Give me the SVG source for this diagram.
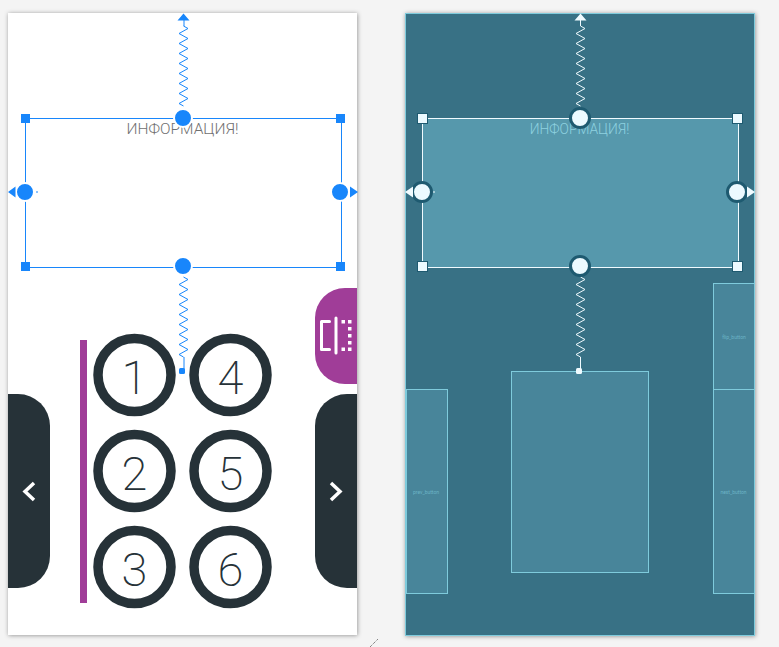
<svg xmlns="http://www.w3.org/2000/svg" xmlns:xlink="http://www.w3.org/1999/xlink" width="779" height="647" viewBox="0 0 779 647">
<style>
text{font-family:Roboto,"Noto Sans",sans-serif}
.spring{fill:none;stroke-width:1}
.blue{stroke:#1886fb}
.white{stroke:#f0fbff}
.num{font-size:47px;font-weight:200;fill:#263238;text-anchor:middle}
.ring{fill:#fff;stroke:#263238;stroke-width:9.500}
.hb{fill:#1886fb}
.hw{fill:#ecfaff;stroke:#1e5a70;stroke-width:1}
.cb{fill:#1886fb;stroke:#fff;stroke-width:2}
.cw{fill:#ecfaff;stroke:#1e5a70;stroke-width:3}
.box{fill:#48859a;stroke:#7fcbdc;stroke-width:1}
.small{font-size:5px;fill:#6cb4c6;text-anchor:middle}
.dark{fill:#263238}
</style>
<defs>
<path id="zig" d="M0 0l4.500 2.500l-9 5l9 5l-9 5l9 5l-9 5l9 5l-9 5l9 5l-9 5l9 5l-9 5l9 5l-9 5l9 5l-9 5l4.500 2.500"/>
<filter id="sh" x="-5%" y="-5%" width="110%" height="110%"><feDropShadow dx="0.500" dy="0.500" stdDeviation="2" flood-color="#000" flood-opacity=".4"/></filter>
</defs>
<rect id="background" width="779" height="647" fill="#f4f4f4"/>
<rect id="light-panel" x="8" y="13" width="349" height="622" fill="#fff" filter="url(#sh)"/>
<rect id="dark-panel" x="405.500" y="13.500" width="349" height="622" fill="#397185" stroke="#7fcbdc" filter="url(#sh)"/>

<g id="prev-button"><path class="dark" d="M8 394H18A32 32 0 0 1 50 426V556A32 32 0 0 1 18 588H8Z"/><path d="M34 483L25 491.500L34 500" fill="none" stroke="#fff" stroke-width="3.500"/></g>
<g id="next-button"><path class="dark" d="M357 394H347A32 32 0 0 0 315 426V556A32 32 0 0 0 347 588H357Z"/><path d="M331 483L340 491.500L331 500" fill="none" stroke="#fff" stroke-width="3.500"/></g>
<g id="flip-button"><path d="M357 288H345A30 30 0 0 0 315 318V354A30 30 0 0 0 345 384H357Z" fill="#a03d98"/>
<path d="M329.500 321.500H321.500V349.500H329.500" fill="none" stroke="#fff" stroke-width="3" stroke-linejoin="round" stroke-linecap="round"/><path d="M336 318V353" stroke="#fff" stroke-width="3" stroke-linecap="round"/>
<path d="M341.500 320h3.500v3.500h-3.500zM348 320h3.500v3.500h-3.500zM348 327h3.500v3.500h-3.500zM348 334h3.500v3.500h-3.500zM348 341h3.500v3.500h-3.500zM348 347.500h3.500v3.500h-3.500zM341.500 347.500h3.500v3.500h-3.500z" fill="#fff"/></g>
<rect id="divider" x="80" y="340" width="7" height="263" fill="#a03d98"/>

<g id="num-1"><circle class="ring" cx="134.500" cy="375" r="36.500"/><text class="num" x="134.500" y="393.500">1</text></g>
<g id="num-2"><circle class="ring" cx="134.500" cy="471" r="36.500"/><text class="num" x="134.500" y="489.500">2</text></g>
<g id="num-3"><circle class="ring" cx="134.500" cy="567" r="36.500"/><text class="num" x="134.500" y="585.500">3</text></g>
<g id="num-4"><circle class="ring" cx="230.500" cy="375" r="36.500"/><text class="num" x="230.500" y="393.500">4</text></g>
<g id="num-5"><circle class="ring" cx="230.500" cy="471" r="36.500"/><text class="num" x="230.500" y="489.500">5</text></g>
<g id="num-6"><circle class="ring" cx="230.500" cy="567" r="36.500"/><text class="num" x="230.500" y="585.500">6</text></g>

<g id="info-light"><rect x="25.500" y="118.500" width="316" height="149" fill="none" stroke="#1886fb"/>
<text x="182.500" y="134" font-size="15.500" font-weight="300" fill="#707070" text-anchor="middle">ИНФОРМАЦИЯ!</text></g>

<g id="dark-boxes">
<rect class="box" x="406.500" y="389.500" width="41" height="204"/><text class="small" x="426" y="494">prev_button</text>
<rect class="box" x="511.500" y="371.500" width="137" height="201"/>
<rect class="box" x="713.500" y="283.500" width="41" height="106"/><text class="small" x="734" y="339">flip_button</text>
<rect class="box" x="713.500" y="389.500" width="41" height="204"/><text class="small" x="733.500" y="494">next_button</text>
</g>

<g id="info-dark"><rect x="422.500" y="118.500" width="316" height="149" fill="#5698ac" stroke="#f0fbff"/>
<text x="579.500" y="134" font-size="13.800" font-weight="300" fill="#8ed2e0" text-anchor="middle">ИНФОРМАЦИЯ!</text></g>

<g id="connectors">
<path class="spring blue" d="M184 20V26"/><use xlink:href="#zig" href="#zig" x="183.500" y="26" class="spring blue"/>
<path class="spring blue" d="M184 357V370"/><use xlink:href="#zig" href="#zig" x="183.500" y="277" class="spring blue"/>
<rect class="hb" x="179" y="368" width="6" height="6" rx="1.500"/>
<path class="spring white" d="M580.500 20V26"/><use xlink:href="#zig" href="#zig" x="580.500" y="26" class="spring white"/>
<path class="spring white" d="M580.500 357V370"/><use xlink:href="#zig" href="#zig" x="580.500" y="277" class="spring white"/>
<rect x="576" y="368" width="6" height="6" rx="1.500" fill="#f0fbff"/>
</g>

<g id="light-handles">
<rect class="hb" x="21" y="114" width="9" height="9"/><rect class="hb" x="336" y="114" width="9" height="9"/><rect class="hb" x="21" y="262" width="9" height="9"/><rect class="hb" x="336" y="262" width="9" height="9"/>
<circle class="cb" cx="183" cy="118" r="9"/><circle class="cb" cx="183" cy="266" r="9"/><circle class="cb" cx="25" cy="192" r="9"/><circle class="cb" cx="340" cy="192" r="9"/>
<path class="hb" d="M8 192L15.500 186.500V197.500ZM358 192L350 186.500V197.500ZM177.500 20.500L183.500 13.500L189.500 20.500Z"/><path d="M36 192h2" class="blue"/>
</g>

<g id="dark-handles">
<rect class="hw" x="417.500" y="113.500" width="10" height="10"/><rect class="hw" x="732.500" y="113.500" width="10" height="10"/><rect class="hw" x="417.500" y="261.500" width="10" height="10"/><rect class="hw" x="732.500" y="261.500" width="10" height="10"/>
<circle class="cw" cx="580" cy="118" r="9.500"/><circle class="cw" cx="580" cy="266" r="9.500"/><circle class="cw" cx="422" cy="192" r="9.500"/><circle class="cw" cx="737" cy="192" r="9.500"/>
<path fill="#f0fbff" d="M405 192L413 186.500V197.500ZM755 192L747 186.500V197.500ZM574.500 20.500L580.500 13.500L586.500 20.500Z"/><path d="M433 192h2" class="white"/>
</g>
<path id="resize-corner" d="M370 647L378 639" stroke="#555" stroke-dasharray="1 1" fill="none"/>
</svg>
